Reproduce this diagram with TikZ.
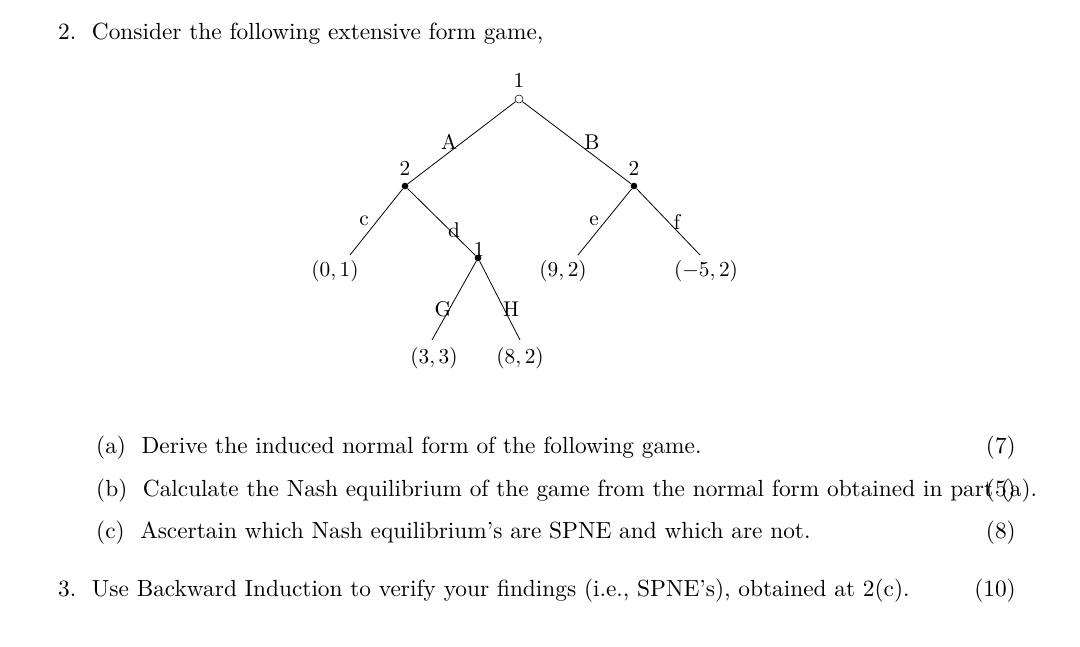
\documentclass[tikz,border=0pt]{standalone}
\begin{document}
\begin{tikzpicture}[x=0.75pt,y=-0.75pt,
  big/.style={font=\fontsize{10}{12}\selectfont,scale=1.75},
  sm/.style={font=\fontsize{10}{12}\selectfont,inner sep=0pt,scale=1.6},
  dec/.style={circle,fill=black,inner sep=0pt,minimum size=5pt},
  edge/.style={line width=0.6pt}]
\useasboundingbox (0,0) rectangle (1080,646);
\node[circle,draw,inner sep=0pt,minimum size=6pt,fill=white] (r) at (519,99) {};
\node[dec] (n2l) at (405,186) {};
\node[dec] (n2r) at (634,186) {};
\node[dec] (n1) at (478,258) {};
\coordinate (tc) at (350,255);
\coordinate (te) at (578,255);
\coordinate (tf) at (700,255);
\coordinate (tg) at (432,340);
\coordinate (th) at (520,340);
\draw[edge] (r) -- (n2l) (r) -- (n2r) (n2l) -- (tc) (n2l) -- (n1) (n2r) -- (te) (n2r) -- (tf) (n1) -- (tg) (n1) -- (th);
\node[sm] (l1) at (519,80) {1};
\node[sm] (l2l) at (405,168) {2};
\node[sm] (l2r) at (634,168) {2};
\node[sm] (l1b) at (479,249) {1};
\node[sm] (lA) at (449,142) {A};
\node[sm] (lB) at (592,142) {B};
\node[sm] (lc) at (364,221) {c};
\node[sm] (ld) at (454,230) {d};
\node[sm] (le) at (594,221) {e};
\node[sm] (lf) at (677,222) {f};
\node[sm] (lG) at (443,309) {G};
\node[sm] (lH) at (511,309) {H};
\node[sm] (p1) at (335,271) {$(0,1)$};
\node[sm] (p2) at (563,271) {$(9,2)$};
\node[sm] (p3) at (706,271) {$(-5,2)$};
\node[sm] (p4) at (434,358) {$(3,3)$};
\node[sm] (p5) at (520,358) {$(8,2)$};
\node[big,anchor=west] (q2) at (50,34) {2.\ \ Consider the following extensive form game,};
\node[big,anchor=west] (qa) at (88,448) {(a)\ \ Derive the induced normal form of the following game.};
\node[big,anchor=west] (qb) at (88,491) {(b)\ \ Calculate the Nash equilibrium of the game from the normal form obtained in part (a).};
\node[big,anchor=west] (qc) at (88,533) {(c)\ \ Ascertain which Nash equilibrium's are SPNE and which are not.};
\node[big,anchor=west] (q3) at (50,591) {3.\ \ Use Backward Induction to verify your findings (i.e., SPNE's), obtained at 2(c).};
\node[big,anchor=east] (ma) at (1024,448) {(7)};
\node[big,anchor=east] (mb) at (1024,491) {(5)};
\node[big,anchor=east] (mc) at (1024,533) {(8)};
\node[big,anchor=east] (m3) at (1024,591) {(10)};
\end{tikzpicture}
\end{document}
